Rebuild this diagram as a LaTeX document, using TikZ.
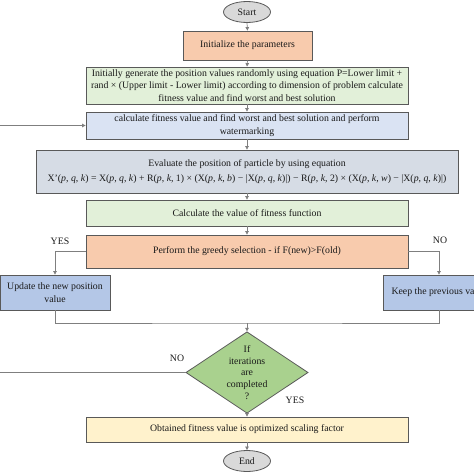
\documentclass[tikz,border=0pt]{standalone}
\usepackage{fontspec}
\setmainfont{Liberation Serif}
\usetikzlibrary{positioning, shapes.geometric, arrows.meta}

\definecolor{orangefill}{HTML}{F8CBAD}
\definecolor{greenfill}{HTML}{E2F0D9}
\definecolor{bluefill}{HTML}{DAE3F3}
\definecolor{evalfill}{HTML}{D6DCE5}
\definecolor{updfill}{HTML}{B4C7E7}
\definecolor{decfill}{HTML}{A9D18E}
\definecolor{yellowfill}{HTML}{FFF2CC}
\definecolor{termfill}{HTML}{D9D9D9}
\definecolor{edge}{HTML}{595959}
\definecolor{wire}{HTML}{7F7F7F}

\begin{document}
\begin{tikzpicture}[x=1pt, y=-1pt,
    every node/.style={font=\fontsize{9.8}{12.5}\selectfont, text=black!90},
    procbox/.style={draw=edge, line width=0.8pt, rectangle, align=center, inner sep=1pt},
    termnode/.style={draw=edge, line width=0.8pt, ellipse, fill=termfill, minimum width=47pt, minimum height=21pt, inner sep=0pt},
    flow/.style={draw=wire, line width=0.7pt, -{Triangle[width=3.5pt,length=3.5pt]}},
    plain/.style={draw=wire, line width=0.7pt}]

    % Fix the frame
    \useasboundingbox (0,0) rectangle (474,474);
    \clip (0,0) rectangle (474,474);

    % Terminals
    \node[termnode] (start) at (247,12) {Start};
    \node[termnode] (finish) at (247,461) {End};

    % Process boxes
    \node[procbox, fill=orangefill, minimum width=129pt, minimum height=29pt] (init) at (247.5,45.5) {Initialize the parameters};
    \node[procbox, fill=greenfill, minimum width=322pt, minimum height=37pt] (gen) at (247,85.5)
      {Initially generate the position values randomly using equation P=Lower limit +\\
       rand × (Upper limit - Lower limit) according to dimension of problem calculate\\
       fitness value and find worst and best solution};
    \node[procbox, fill=bluefill, minimum width=322pt, minimum height=27pt] (calc) at (247,125.5)
      {calculate fitness value and find worst and best solution and perform\\ watermarking};
    \node[procbox, fill=evalfill, minimum width=422pt, minimum height=43pt] (eval) at (247,171.5)
      {Evaluate the position of particle by using equation\\[2pt]
       X'(\textit{p}, \textit{q}, \textit{k}) = X(\textit{p}, \textit{q}, \textit{k}) + R(\textit{p}, \textit{k}, 1) × (X(\textit{p}, \textit{k}, \textit{b}) − |X(\textit{p}, \textit{q}, \textit{k})|) − R(\textit{p}, \textit{k}, 2) × (X(\textit{p}, \textit{k}, \textit{w}) − |X(\textit{p}, \textit{q}, \textit{k})|)};
    \node[procbox, fill=greenfill, minimum width=322pt, minimum height=26pt] (fit) at (247,213) {Calculate the value of fitness function};
    \node[procbox, fill=orangefill, minimum width=322pt, minimum height=33pt] (greedy) at (247,251.5) {Perform the greedy selection - if F(new)>F(old)};
    \node[procbox, fill=updfill, minimum width=110pt, minimum height=35pt] (update) at (55,292.5) {Update the new position\\ value};
    \node[procbox, fill=updfill, minimum width=112pt, minimum height=35pt] (keep) at (439,292.5) {Keep the previous value};
    \node[procbox, diamond, fill=decfill, minimum width=111pt, minimum height=73pt, aspect=1.5, inner sep=0pt, font=\fontsize{9.8}{11.8}\selectfont] (dec) at (247,372.5)
      {If\\ iterations\\ are\\ completed\\ ?};
    \node[procbox, fill=yellowfill, minimum width=322pt, minimum height=25pt] (obt) at (247,429.5) {Obtained fitness value is optimized scaling factor};

    % Labels
    \node (yesl) at (60,241) {YES};
    \node (nor) at (440,240) {NO};
    \node (nod) at (177,358) {NO};
    \node (yesd) at (295,400) {YES};

    % Main flow
    \foreach \a/\b in {start/init, init/gen, gen/calc, calc/eval, eval/fit, fit/greedy, dec/obt, obt/finish} {
      \draw[flow] (\a.south) -- (\b.north);
    }

    % Branches of the greedy selection
    \draw[flow] (greedy.west) -| (update.north);
    \draw[flow] (greedy.east) -| (keep.north);
    \coordinate (join) at (247,323);
    \draw[plain] (update.south) |- (join) -| (keep.south);
    \draw[flow] (join) -- (dec.north);

    % Loop back
    \coordinate (back) at (-6,372.5);
    \draw[flow] (dec.west) -- (back) |- (calc.west);
\end{tikzpicture}
\end{document}
